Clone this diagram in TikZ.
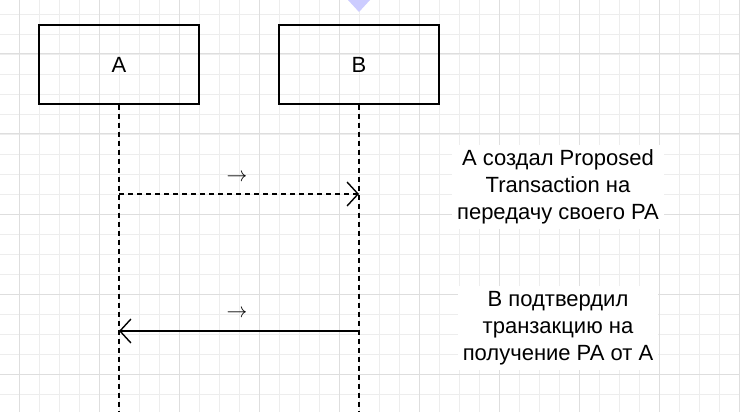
\documentclass[tikz,border=0pt]{standalone}
\usepackage{fontspec}
\setmainfont{Liberation Sans}
\usetikzlibrary{arrows.meta}
\begin{document}
\begin{tikzpicture}[x=1pt,y=-1pt,
  box/.style={draw,line width=1.5pt,minimum width=160pt,minimum height=79pt,font=\fontsize{22}{24}\selectfont},
  note/.style={fill=white,align=center,font=\fontsize{22}{27}\selectfont,inner sep=5pt},
  life/.style={dash pattern=on 5pt off 4pt,line width=1.2pt},
  msg/.style={line width=1.5pt,-{Straight Barb[length=11pt,width=24pt,line width=1.4pt]}},
  arr/.style={font=\fontsize{20}{20}\selectfont}]
\useasboundingbox (0,0) rectangle (740,412);
\fill[white] (0,0) rectangle (740,412);
\foreach \i in {-1,...,37} {\draw[black!7,line width=0.8pt] (\i*20-1,0) -- (\i*20-1,412);}
\foreach \j in {0,...,21} {\draw[black!7,line width=0.8pt] (0,\j*20+14) -- (740,\j*20+14);}
\foreach \i in {0,...,9} {\draw[black!13,line width=1pt] (\i*80+19,0) -- (\i*80+19,412);}
\foreach \j in {0,...,4} {\draw[black!13,line width=1pt] (0,\j*80+54) -- (740,\j*80+54);}
\fill[blue!20] (348,0) -- (370,0) -- (359,12) -- cycle;
\node[box] (A) at (119,64.5) {A};
\node[box] (B) at (359,64.5) {B};
\coordinate (Ae) at (119,412);
\coordinate (Be) at (359,412);
\draw[life] (A.south) -- (Ae);
\draw[life] (B.south) -- (Be);
\coordinate (m1a) at (119,194);
\coordinate (m1b) at (359,194);
\coordinate (m2a) at (119,331);
\coordinate (m2b) at (359,331);
\draw[msg,dash pattern=on 5pt off 4pt] (m1a) -- (m1b);
\draw[msg] (m2b) -- (m2a);
\node[arr] (l1) at (237,178) {$\rightarrow$};
\node[arr] (l2) at (237,314) {$\rightarrow$};
\node[note] (n1) at (558,187) {А создал Proposed\\Transaction на\\передачу своего PA};
\node[note] (n2) at (558,328) {В подтвердил\\транзакцию на\\получение PA от A};
\end{tikzpicture}
\end{document}
